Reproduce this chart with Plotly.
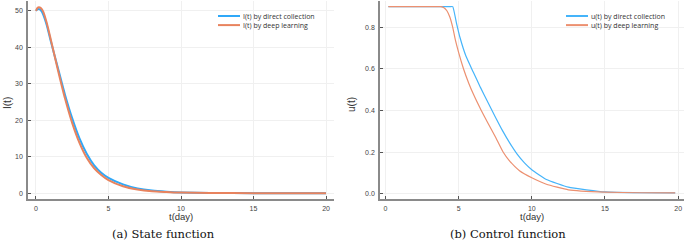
import plotly.graph_objects as go

# ---- data ----
t_I = [0, 0.1, 0.2, 0.35, 0.5, 0.75, 1.0, 1.5, 2.0, 2.5, 3.0, 3.5, 4.0, 4.5, 5.0, 6.0, 7.0, 8.0, 9.0, 10, 12, 15, 20]
I_direct = [50.0, 50.4, 50.5, 50.1, 49.0, 46.0, 42.0, 34.5, 27.0, 20.5, 15.0, 10.8, 7.7, 5.6, 4.2, 2.4, 1.3, 0.7, 0.4, 0.2, 0.06, 0.01, 0.0]
I_deep = [50.0, 50.8, 51.0, 50.7, 49.8, 46.6, 42.5, 34.0, 26.0, 19.2, 13.8, 9.7, 6.9, 5.0, 3.6, 1.9, 1.0, 0.5, 0.3, 0.15, 0.04, 0.01, 0.0]

t_u_direct = [0.2, 1, 2, 3, 4, 4.4, 4.6, 4.85, 5.1, 5.5, 6.0, 6.5, 7.0, 7.5, 8.0, 8.5, 9.0, 9.5, 10, 11, 12.5, 15, 17.5, 19.8]
u_direct = [0.9, 0.9, 0.9, 0.9, 0.9, 0.9, 0.9, 0.822, 0.75, 0.662, 0.585, 0.51, 0.44, 0.37, 0.303, 0.243, 0.19, 0.148, 0.115, 0.068, 0.031, 0.008, 0.004, 0.003]
t_u_deep = [0.2, 1, 2, 3, 3.8, 4.0, 4.2, 4.4, 4.6, 4.77, 5.0, 5.34, 5.7, 6.0, 6.55, 7.0, 7.5, 8.04, 8.45, 9.16, 10, 11, 12.5, 15, 17.5, 19.8]
u_deep = [0.9, 0.9, 0.9, 0.9, 0.9, 0.895, 0.88, 0.85, 0.80, 0.742, 0.68, 0.6, 0.53, 0.48, 0.4, 0.34, 0.275, 0.2, 0.16, 0.11, 0.076, 0.045, 0.018, 0.007, 0.004, 0.003]

x_ticks = [0, 5, 10, 15, 20]
I_ticks = [0, 10, 20, 30, 40, 50]
u_ticks = [0.0, 0.2, 0.4, 0.6, 0.8]
u_tick_text = ["0.0", "0.2", "0.4", "0.6", "0.8"]

legend_I = ["I(t) by direct collection", "I(t) by deep learning"]
legend_u = ["u(t) by direct collection", "u(t) by deep learning"]

BLUE = "#2FA8F8"
RED = "#E8835E"
BLUE_THIN = "#45B4FA"
RED_THIN = "#EC9070"
W, H = 685, 249
FONT = "Liberation Sans"

fig = go.Figure()
fig.add_trace(go.Scatter(x=t_I, y=I_direct, mode="lines", name=legend_I[0],
                         line=dict(color=BLUE, width=2, shape="spline", smoothing=0.6),
                         xaxis="x", yaxis="y"))
fig.add_trace(go.Scatter(x=t_I, y=I_deep, mode="lines", name=legend_I[1],
                         line=dict(color=RED, width=2, shape="spline", smoothing=0.6),
                         xaxis="x", yaxis="y"))
fig.add_trace(go.Scatter(x=t_u_direct, y=u_direct, mode="lines", name=legend_u[0],
                         line=dict(color=BLUE_THIN, width=1.2, shape="spline", smoothing=0.4),
                         xaxis="x2", yaxis="y2"))
fig.add_trace(go.Scatter(x=t_u_deep, y=u_deep, mode="lines", name=legend_u[1],
                         line=dict(color=RED_THIN, width=1.2, shape="spline", smoothing=0.4),
                         xaxis="x2", yaxis="y2"))


def px_x(p):
    return p / W


def px_y(p):
    return 1 - p / H


axis_common = dict(showline=True, linecolor="#8a8a8a", linewidth=1.5, mirror=False,
                   ticks="inside", ticklen=3, tickcolor="#555", tickwidth=1,
                   showgrid=True, gridcolor="#F0F0F0", gridwidth=1, zeroline=False,
                   ticklabelstandoff=2,
                   tickfont=dict(family=FONT, size=7, color="#444"))

annotations = []
shapes = []


def add_text(text, x, y, size, family=FONT, color="#333", angle=0, xanchor="center"):
    annotations.append(dict(text=text, x=px_x(x), y=px_y(y), xref="paper", yref="paper",
                            textangle=angle, showarrow=False, xanchor=xanchor, yanchor="middle",
                            align="left", borderpad=0,
                            font=dict(family=family, size=size, color=color)))


LEG_SIZE = 7
LEG_GAP = LEG_SIZE * 1.3


def add_legend(x0, labels, colors, width):
    y_first = 16
    for i, col in enumerate(colors):
        yy = y_first + LEG_GAP * i
        shapes.append(dict(type="line", xref="paper", yref="paper",
                           x0=px_x(x0), x1=px_x(x0 + 22), y0=px_y(yy), y1=px_y(yy),
                           line=dict(color=col, width=width)))
    add_text("<br>".join(labels), x0 + 24, y_first + LEG_GAP * (len(labels) - 1) / 2,
             LEG_SIZE, family="Open Sans", xanchor="left")


add_legend(218, legend_I, [BLUE, RED], 2)
add_legend(566, legend_u, [BLUE_THIN, RED_THIN], 2)

add_text("I(t)", 7, 103, 10, angle=-90)
add_text("u(t)", 351, 105, 10, angle=-90)
add_text("t(day)", 181, 216.5, 9.5)
add_text("t(day)", 532, 216.5, 9.5)
add_text("(a) State function", 163, 234, 11.5, family="DejaVu Serif", color="#111")
add_text("(b) Control function", 508, 234, 11.5, family="DejaVu Serif", color="#111")

fig.update_layout(
    width=W, height=H,
    margin=dict(l=0, r=0, t=0, b=0),
    paper_bgcolor="white", plot_bgcolor="white",
    showlegend=False,
    xaxis=dict(domain=[px_x(28), px_x(334)], range=[-0.55, 20.55], tickvals=x_ticks,
               anchor="y", **axis_common),
    yaxis=dict(domain=[px_y(199), px_y(1)], range=[-1.6, 52.7], tickvals=I_ticks,
               anchor="x", **axis_common),
    xaxis2=dict(domain=[px_x(380), px_x(684)], range=[-0.37, 20.4], tickvals=x_ticks,
                anchor="y2", **axis_common),
    yaxis2=dict(domain=[px_y(199), px_y(1)], range=[-0.026, 0.927], tickvals=u_ticks,
                ticktext=u_tick_text, anchor="x2", **axis_common),
    annotations=annotations,
    shapes=shapes,
)

fig.write_html("out.html", post_script="document.body.style.margin='0';",
               config={"displayModeBar": False})
